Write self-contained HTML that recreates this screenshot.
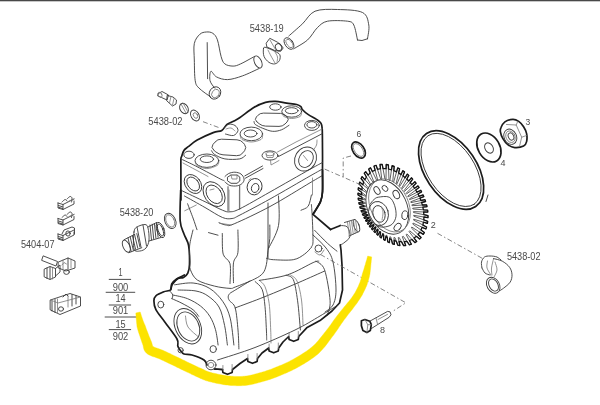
<!DOCTYPE html>
<html><head><meta charset="utf-8"><style>
html,body{margin:0;padding:0;background:#fff;width:600px;height:405px;overflow:hidden}
svg{display:block;position:absolute;left:0;top:0;will-change:transform}
.k{fill:none;stroke:#1c1c1c;stroke-width:1.7;stroke-linejoin:round;stroke-linecap:round}
.t{fill:none;stroke:#3a3a3a;stroke-width:0.9;stroke-linejoin:round;stroke-linecap:round}
.l{fill:none;stroke:#777;stroke-width:0.8;stroke-linejoin:round;stroke-linecap:round}
.d{fill:none;stroke:#666;stroke-width:0.8;stroke-dasharray:5 2.5 1.5 2.5}
.gf{fill:none;stroke:#141414;stroke-width:1.3;stroke-linejoin:round}
.gl2{fill:none;stroke:#444;stroke-width:0.85;stroke-linejoin:round}
.gb{fill:none;stroke:#333;stroke-width:1;stroke-linejoin:round}
.gl{fill:none;stroke:#444;stroke-width:0.7}
.y{fill:none;stroke:#fde300;stroke-width:6;stroke-linejoin:round;stroke-linecap:butt}
text{font-family:"Liberation Sans",sans-serif;fill:#4a4a4a}
</style></head><body>
<svg width="600" height="405" viewBox="0 0 600 405">
<defs><filter id="yb" x="-5%" y="-5%" width="110%" height="110%"><feGaussianBlur stdDeviation="0.55"/></filter></defs>
<rect x="0" y="0" width="600" height="1.3" fill="#484848"/>
<path class="t" d="M211.0,97.2 C209.0,95.7 201.5,90.8 198.9,88.0 C196.3,85.2 196.0,85.3 195.2,80.6 C194.4,75.9 194.5,66.2 194.3,60.0 C194.2,53.8 193.4,47.8 194.3,43.5 C195.2,39.2 197.8,36.2 199.8,34.3 C201.8,32.4 204.1,32.2 206.3,32.0 C208.5,31.8 211.0,32.0 212.8,33.3 C214.7,34.6 216.0,35.9 217.4,39.8 C218.8,43.7 219.9,52.5 221.1,56.5 C222.3,60.5 222.8,62.3 224.8,63.9 C226.8,65.5 230.5,66.1 233.1,66.1 C235.7,66.1 237.0,65.5 240.6,63.9 C244.2,62.3 252.1,57.7 254.4,56.5" />
<path class="t" d="M259.1,68.5 C256.3,69.7 247.7,74.1 242.4,75.9 C237.2,77.8 231.9,79.4 227.6,79.6 C223.3,79.8 219.3,78.3 216.5,76.9 C213.7,75.5 212.0,70.7 210.9,71.3 C209.8,71.9 209.4,77.8 210.0,80.6 C210.6,83.4 213.8,86.8 214.6,88.0" />
<path class="t" d="M207.2,42.6 L207.6,78.7" />
<ellipse class="t" cx="258.0" cy="62.0" rx="3.5" ry="6.5" transform="rotate(-25.0 258.0 62.0)" />
<ellipse class="t" cx="215.0" cy="93.0" rx="5.5" ry="6.5" transform="rotate(35.0 215.0 93.0)" />
<ellipse class="l" cx="215.5" cy="93.5" rx="3.5" ry="4.5" transform="rotate(35.0 215.5 93.5)" />
<path class="t" d="M263.5,48.5 C263.8,47.0 264.1,47.0 266.0,47.5 C267.9,48.0 272.5,50.1 274.8,51.3 C277.1,52.5 279.0,53.2 279.8,54.7 C280.6,56.2 280.2,59.1 279.4,60.6 C278.6,62.1 276.6,63.6 274.8,63.9 C273.1,64.2 270.7,63.5 268.9,62.3 C267.1,61.0 264.9,58.7 264.0,56.4 C263.1,54.1 263.2,50.0 263.5,48.5Z" />
<path class="l" d="M268.0,50.0 C268.5,51.0 269.8,53.8 271.0,56.0 C272.2,58.2 274.3,61.8 275.0,63.0" />
<path class="l" d="M275.0,52.0 C275.4,52.8 277.2,55.3 277.5,57.0 C277.8,58.7 277.1,61.2 277.0,62.0" />
<path class="t" d="M266.4,42.9 L269.8,38.3 L277.3,42.1 L280.7,44.6 L283.2,48.0 L280.7,51.3 L274.8,50.5 L267.2,47.1Z" />
<ellipse class="t" cx="278.5" cy="47.2" rx="3.0" ry="3.6" transform="rotate(-30.0 278.5 47.2)" />
<path class="l" d="M270.0,40.0 L275.5,49.5" />
<path class="t" d="M288.8,36.0 C291.0,34.0 298.1,27.9 302.5,23.8 C306.9,19.6 309.2,13.6 315.0,11.2 C320.8,8.9 329.6,9.3 337.5,9.5 C345.4,9.7 357.3,9.9 362.5,12.5 C367.7,15.1 367.9,20.6 368.8,25.0 C369.6,29.4 367.7,36.5 367.5,38.8" />
<path class="t" d="M357.5,40.0 C356.9,37.5 355.4,28.1 353.8,25.0 C352.1,21.9 351.9,21.9 347.5,21.2 C343.1,20.6 332.5,20.2 327.5,21.2 C322.5,22.3 320.8,24.4 317.5,27.5 C314.2,30.6 311.5,36.5 307.5,40.0 C303.5,43.5 296.0,47.3 293.8,48.8" />
<path class="t" d="M367.5,38.8 L362.0,40.5 L357.5,40.0" />
<ellipse class="t" cx="289.0" cy="43.5" rx="4.0" ry="6.5" transform="rotate(-35.0 289.0 43.5)" />
<ellipse class="l" cx="289.5" cy="43.5" rx="2.6" ry="4.8" transform="rotate(-35.0 289.5 43.5)" />
<text x="249.7" y="32.4" font-size="10.4" textLength="34" lengthAdjust="spacingAndGlyphs">5438-19</text>
<path class="t" d="M158.5,93.5 L162.0,91.5 L168.5,95.0 L167.0,100.0 L161.5,97.5 L158.0,96.0Z" />
<ellipse class="l" cx="160.0" cy="94.8" rx="1.8" ry="2.8" transform="rotate(-30.0 160.0 94.8)" />
<path class="t" d="M167.5,95.5 L173.0,97.0 L176.5,100.0 L176.0,104.0 L172.5,106.0 L167.0,101.0Z" />
<path class="l" d="M171.0,96.5 L169.5,103.0" />
<path class="l" d="M174.0,98.5 L172.5,105.0" />
<ellipse class="t" cx="184.0" cy="108.5" rx="4.0" ry="5.5" transform="rotate(-30.0 184.0 108.5)" />
<path class="l" d="M181.0,104.0 L186.0,113.0" />
<path class="l" d="M183.0,103.0 L188.0,112.0" />
<ellipse class="t" cx="195.0" cy="115.5" rx="4.0" ry="5.8" transform="rotate(-30.0 195.0 115.5)" />
<ellipse class="l" cx="195.5" cy="115.5" rx="2.0" ry="3.0" transform="rotate(-30.0 195.5 115.5)" />
<text x="148.3" y="125.0" font-size="10.4" textLength="34.2" lengthAdjust="spacingAndGlyphs">5438-02</text>
<path class="d" d="M203.0,121.7 L220.0,128.0" />
<path class="k" d="M180.9,200.0 C180.9,195.8 180.9,181.8 180.9,175.0 C180.9,168.2 180.8,162.4 180.9,159.3 C181.0,156.2 181.2,157.8 181.7,156.3 C182.2,154.8 182.8,152.0 183.9,150.4 C185.0,148.8 186.1,148.4 188.3,146.7 C190.5,145.0 193.0,142.3 197.2,140.0 C201.3,137.7 209.1,134.2 213.2,132.6 C217.3,131.0 219.5,131.8 221.8,130.4 C224.1,129.0 225.0,126.0 227.0,124.4 C229.0,122.8 231.8,122.2 234.0,121.0 C236.2,119.8 236.6,119.8 240.0,117.5 C243.4,115.2 249.9,109.8 254.2,107.3 C258.4,104.8 262.0,103.4 265.5,102.4 C269.0,101.4 271.9,101.3 275.4,101.4 C278.9,101.5 283.1,102.6 286.7,103.1 C290.2,103.6 294.3,103.9 296.7,104.5 C299.1,105.1 300.0,105.8 300.9,106.6 C301.8,107.4 301.1,108.2 302.3,109.5 C303.5,110.8 305.6,112.8 308.0,114.4 C310.4,116.1 314.4,118.0 316.5,119.4 C318.6,120.8 319.8,121.4 320.7,122.9 C321.6,124.4 321.9,124.1 322.2,128.6 C322.5,133.1 322.4,143.1 322.5,150.0 C322.6,156.9 322.5,163.1 322.5,170.0 C322.5,176.9 322.8,186.4 322.5,191.7 C322.2,197.0 322.1,197.8 320.5,201.6 C318.9,205.4 314.2,212.2 313.0,214.3" />
<path class="t" d="M181.7,159.3 C184.0,160.4 191.0,163.6 195.7,166.0 C200.4,168.4 205.8,171.3 210.0,173.5 C214.2,175.7 218.6,178.1 220.9,179.3 C223.2,180.5 223.5,180.3 224.0,180.5" />
<path class="l" d="M183.0,163.0 C185.2,164.2 191.8,167.8 196.0,170.0 C200.2,172.2 206.0,175.4 208.0,176.5" />
<path class="t" d="M225.0,176.5 C225.6,176.0 227.0,174.2 228.7,173.5 C230.3,172.8 232.8,172.1 234.9,172.2 C237.0,172.3 239.5,172.9 241.0,174.0 C242.5,175.1 243.9,177.4 244.1,179.0 C244.3,180.6 243.4,182.2 242.3,183.3 C241.2,184.4 239.4,185.4 237.3,185.8 C235.2,186.2 232.1,186.1 230.0,185.5 C227.9,184.9 225.8,182.6 225.0,182.0" />
<path class="t" d="M227.8,177.0 L231.0,175.0 L237.0,175.0 L239.8,177.0 L239.8,181.0 L237.0,183.3 L231.0,183.3 L227.8,181.0Z" />
<path class="l" d="M231.0,175.0 L232.0,179.0 L237.0,179.0 L237.0,175.0" />
<path class="t" d="M228.0,186.7 L228.0,210.5" />
<path class="t" d="M239.7,185.8 L239.7,209.2" />
<path class="t" d="M244.8,175.9 L262.5,166.0" />
<path class="t" d="M245.4,178.2 L263.0,168.5" />
<ellipse class="t" cx="270.0" cy="155.5" rx="8.0" ry="4.6" transform="rotate(0.0 270.0 155.5)" />
<path class="l" d="M266.0,154.0 L267.0,157.5 L273.0,157.5 L274.0,154.0" />
<ellipse class="l" cx="270.0" cy="153.8" rx="4.0" ry="2.0" transform="rotate(0.0 270.0 153.8)" />
<path class="l" d="M270.5,160.0 L271.0,165.0 L279.0,160.5" />
<path class="t" d="M278.5,156.5 L322.0,133.8" />
<path class="l" d="M277.5,152.0 L296.0,142.0 L322.2,129.0" />
<path class="t" d="M182.5,191.0 C186.2,192.8 198.3,198.5 205.0,201.7 C211.7,204.9 218.3,208.5 222.5,210.2 C226.7,211.9 227.1,212.1 230.0,211.8 C232.9,211.6 233.3,212.0 240.0,208.7 C246.7,205.4 258.3,198.6 270.0,192.0 C281.7,185.4 301.2,174.2 310.0,169.3 C318.8,164.4 320.4,163.6 322.5,162.5" />
<path class="t" d="M184.5,196.0 C187.9,197.9 198.7,203.9 205.0,207.5 C211.3,211.1 218.0,215.7 222.5,217.5 C227.0,219.3 229.1,218.9 232.0,218.5 C234.9,218.1 233.7,218.2 240.0,215.0 C246.3,211.8 258.3,205.5 270.0,199.0 C281.7,192.5 301.2,181.0 310.0,176.0 C318.8,171.0 320.4,170.2 322.5,169.0" />
<path class="t" d="M219.0,222.7 C220.2,223.1 223.5,224.8 226.0,225.0 C228.5,225.2 226.9,226.9 234.2,223.8 C241.5,220.7 257.4,213.3 270.0,206.5 C282.6,199.7 301.2,188.0 310.0,182.8 C318.8,177.6 320.4,176.7 322.5,175.5" />
<path class="l" d="M184.7,210.8 L196.3,205.0" />
<path class="l" d="M219.7,223.3 L231.3,225.0" />
<path class="l" d="M312.5,178.0 L312.5,195.0" />
<path class="t" d="M256.7,121.7 Q254.0,119.5 256.4,116.9 L257.6,115.6 Q260.0,113.0 263.5,113.1 L280.5,113.4 Q284.0,113.5 286.4,116.1 L287.1,116.9 Q289.5,119.5 287.0,122.0 L285.0,124.0 Q282.5,126.5 279.0,126.4 L265.5,126.1 Q262.0,126.0 259.3,123.8 L256.7,121.7" />
<path class="t" d="M254.1,121.5 C254.3,122.0 253.9,123.4 255.3,124.5 C256.8,125.6 259.9,127.2 262.8,128.3 C265.7,129.4 269.4,131.1 272.5,131.3 C275.6,131.6 278.8,130.8 281.5,129.8 C284.2,128.8 287.8,126.0 289.0,125.3" />
<path class="t" d="M213.6,150.0 Q210.5,147.5 213.0,144.4 L215.0,142.1 Q217.5,139.0 221.5,139.2 L237.0,139.8 Q241.0,140.0 243.5,143.1 L244.5,144.4 Q247.0,147.5 244.6,150.7 L242.9,152.8 Q240.5,156.0 236.5,155.7 L223.0,154.8 Q219.0,154.5 215.9,152.0 L213.6,150.0" />
<path class="t" d="M211.6,150.7 C212.1,151.3 212.3,153.0 214.5,154.4 C216.7,155.8 220.7,158.2 224.9,158.9 C229.1,159.7 236.2,159.5 239.7,158.9 C243.1,158.3 244.6,155.8 245.6,155.2" />
<ellipse class="t" cx="206.9" cy="160.7" rx="11.9" ry="6.7" transform="rotate(0.0 206.9 160.7)" />
<ellipse class="t" cx="206.9" cy="159.2" rx="6.7" ry="3.3" transform="rotate(0.0 206.9 159.2)" />
<path class="l" d="M195.3,162.0 C195.6,162.6 195.1,164.4 197.0,165.5 C198.9,166.6 203.6,168.6 206.9,168.6 C210.2,168.6 215.0,166.6 217.0,165.5 C219.0,164.4 218.5,162.6 218.8,162.0" />
<ellipse class="t" cx="189.0" cy="154.8" rx="5.2" ry="3.6" transform="rotate(0.0 189.0 154.8)" />
<ellipse class="t" cx="251.3" cy="133.9" rx="11.3" ry="6.8" transform="rotate(0.0 251.3 133.9)" />
<ellipse class="t" cx="250.6" cy="133.5" rx="6.4" ry="3.5" transform="rotate(0.0 250.6 133.5)" />
<path class="l" d="M240.3,135.5 C240.6,136.2 240.2,138.4 242.0,139.5 C243.8,140.6 248.1,142.0 251.3,142.0 C254.5,142.0 259.1,140.6 261.0,139.5 C262.9,138.4 262.3,136.2 262.6,135.5" />
<ellipse class="t" cx="291.7" cy="111.5" rx="9.9" ry="5.7" transform="rotate(0.0 291.7 111.5)" />
<ellipse class="t" cx="291.7" cy="110.7" rx="6.4" ry="3.0" transform="rotate(0.0 291.7 110.7)" />
<path class="l" d="M282.0,113.0 C282.3,113.6 282.4,115.6 284.0,116.5 C285.6,117.4 289.0,118.5 291.7,118.5 C294.4,118.5 298.4,117.4 300.0,116.5 C301.6,115.6 301.3,113.6 301.6,113.0" />
<ellipse class="t" cx="275.4" cy="107.0" rx="5.7" ry="3.2" transform="rotate(0.0 275.4 107.0)" />
<ellipse class="t" cx="311.9" cy="125.4" rx="7.4" ry="5.0" transform="rotate(0.0 311.9 125.4)" />
<ellipse class="t" cx="311.9" cy="124.8" rx="5.0" ry="3.2" transform="rotate(0.0 311.9 124.8)" />
<ellipse class="t" cx="193.0" cy="184.0" rx="7.6" ry="10.5" transform="rotate(-38.0 193.0 184.0)" />
<ellipse class="t" cx="193.2" cy="184.0" rx="5.3" ry="7.8" transform="rotate(-38.0 193.2 184.0)" />
<ellipse class="t" cx="214.1" cy="194.1" rx="9.6" ry="13.6" transform="rotate(-35.0 214.1 194.1)" />
<ellipse class="t" cx="214.2" cy="194.3" rx="7.0" ry="10.2" transform="rotate(-35.0 214.2 194.3)" />
<path class="l" d="M210.0,190.0 L214.0,189.0" />
<ellipse class="t" cx="254.6" cy="186.7" rx="7.4" ry="8.3" transform="rotate(20.0 254.6 186.7)" />
<ellipse class="t" cx="255.2" cy="188.0" rx="3.7" ry="4.6" transform="rotate(20.0 255.2 188.0)" />
<path class="l" d="M249.0,180.0 C249.3,179.8 250.7,178.8 251.0,178.5" />
<ellipse class="t" cx="305.5" cy="159.0" rx="10.5" ry="12.5" transform="rotate(30.0 305.5 159.0)" />
<ellipse class="t" cx="306.0" cy="159.0" rx="6.8" ry="8.8" transform="rotate(30.0 306.0 159.0)" />
<path class="l" d="M303.5,155.5 L307.5,160.5" />
<path class="t" d="M224.5,127.5 C225.2,127.0 227.2,124.5 229.0,124.2 C230.8,123.9 233.5,124.5 235.0,125.5 C236.5,126.5 238.2,128.8 238.0,130.5 C237.8,132.2 235.6,134.9 233.5,135.5 C231.4,136.1 226.8,134.2 225.5,134.0" />
<path class="l" d="M226.0,129.0 C226.8,128.8 229.5,127.7 231.0,128.0 C232.5,128.3 234.3,130.5 235.0,131.0" />
<path class="l" d="M317.0,140.0 C316.9,140.8 317.1,143.3 316.5,145.0 C315.9,146.7 314.0,149.2 313.5,150.0" />
<path class="k" d="M180.7,190.0 C180.6,195.2 179.6,213.7 180.2,221.0 C180.8,228.3 182.6,229.9 184.0,234.0 C185.4,238.1 187.7,240.4 188.6,245.5 C189.5,250.6 189.6,259.9 189.5,264.5 C189.4,269.1 188.8,271.0 187.8,273.2 C186.8,275.4 185.1,276.6 183.5,277.5 C181.9,278.4 179.8,277.5 178.0,278.6 C176.2,279.7 173.6,282.6 172.4,284.3 C171.2,286.0 171.1,288.2 170.8,289.0" />
<path class="t" d="M193.0,230.0 C192.4,232.7 190.1,240.7 189.6,246.0 C189.1,251.3 189.9,258.1 190.0,262.0 C190.1,265.9 189.2,266.7 190.4,269.7 C191.6,272.7 193.3,277.3 197.3,280.0 C201.3,282.7 209.1,284.7 214.5,286.1 C219.9,287.5 226.5,288.2 230.0,288.4 C233.5,288.5 231.2,288.5 235.3,287.0 C239.4,285.5 249.7,281.5 254.3,279.2 C258.9,276.9 260.9,275.6 262.9,273.2 C264.9,270.8 265.5,268.2 266.4,264.5 C267.2,260.8 267.4,255.0 268.0,250.7 C268.6,246.4 269.5,242.9 269.8,238.6 C270.1,234.3 269.8,227.3 269.8,225.0" />
<path class="t" d="M187.6,203.8 C188.5,206.2 191.4,213.7 193.0,218.0 C194.6,222.3 196.3,227.8 197.0,229.7" />
<path class="t" d="M208.5,232.6 L218.0,235.2" />
<path class="t" d="M222.3,233.5 C222.5,236.9 221.9,249.2 223.2,254.2 C224.5,259.2 228.9,258.8 230.0,263.7 C231.1,268.6 230.0,280.2 230.0,283.5" />
<path class="t" d="M237.9,230.0 C237.9,233.8 238.6,247.0 237.9,252.5 C237.2,258.0 234.2,257.8 233.5,262.8 C232.8,267.8 233.5,279.4 233.5,282.7" />
<path class="l" d="M229.0,190.0 L229.0,211.0" />
<path class="l" d="M239.4,190.0 L239.4,208.0" />
<path class="t" d="M278.5,196.0 C278.5,200.9 280.1,216.8 278.5,225.5 C276.9,234.2 270.4,244.2 268.8,248.0" />
<path class="t" d="M301.0,210.2 C302.2,209.5 306.5,208.7 308.2,206.2 C309.9,203.7 310.9,196.9 311.4,195.0" />
<path class="t" d="M311.4,204.6 C311.5,206.5 311.9,209.8 312.2,215.9 C312.5,222.1 313.1,236.4 313.0,241.5 C312.9,246.6 311.7,245.6 311.4,246.4" />
<path class="t" d="M268.0,203.0 L268.0,258.0" />
<path class="k" d="M322.5,170.0 C322.5,173.6 322.8,186.4 322.5,191.7 C322.2,197.0 322.1,197.8 320.5,201.6 C318.9,205.4 314.2,212.2 313.0,214.3" />
<path class="k" d="M313.0,214.3 L330.6,229.5" />
<path class="k" d="M330.6,229.5 C332.2,228.8 338.7,226.2 340.3,225.5" />
<path class="t" d="M314.6,230.3 C316.7,232.5 323.7,239.7 327.4,243.2 C331.1,246.7 335.4,249.9 337.0,251.2" />
<path class="t" d="M313.0,235.0 C315.2,237.2 322.7,243.5 326.0,248.0 C329.3,252.5 331.3,255.0 333.0,262.0 C334.7,269.0 336.0,282.8 336.0,290.0 C336.0,297.2 334.8,301.3 333.0,305.0 C331.2,308.7 326.3,310.8 325.0,312.0" />
<ellipse class="t" cx="318.5" cy="248.5" rx="3.5" ry="3.5" transform="rotate(0.0 318.5 248.5)" />
<path class="l" d="M315.0,252.0 C315.8,252.5 318.5,255.3 320.0,255.0 C321.5,254.7 323.3,250.8 324.0,250.0" />
<path class="t" d="M340.3,225.5 C341.5,225.8 345.9,225.2 347.5,227.1 C349.1,229.0 350.6,234.0 349.9,236.7 C349.2,239.4 345.1,241.8 343.5,243.2 C341.9,244.5 340.8,244.5 340.3,244.8" />
<path class="t" d="M344.5,222.5 L354.5,219.5" />
<path class="t" d="M349.0,236.0 L358.0,232.0" />
<ellipse class="t" cx="356.5" cy="225.8" rx="2.6" ry="6.5" transform="rotate(-20.0 356.5 225.8)" />
<path class="l" d="M347.5,222.2 L349.3,235.8" />
<path class="l" d="M349.5,221.6 L351.3,235.0" />
<path class="l" d="M351.5,221.0 L353.3,234.2" />
<path class="l" d="M353.5,220.4 L355.3,233.4" />
<path class="l" d="M355.5,219.8 L357.3,232.6" />
<path class="t" d="M174.6,284.8 C177.7,284.5 187.2,282.4 193.1,283.0 C199.0,283.6 204.9,285.4 209.8,288.5 C214.8,291.6 219.4,296.6 222.8,301.5 C226.2,306.4 228.3,310.9 230.2,318.1 C232.0,325.4 233.3,340.5 233.9,345.0" />
<path class="t" d="M178.0,290.0 C181.0,290.2 191.0,290.0 196.0,291.0 C201.0,292.0 204.2,293.3 208.0,296.0 C211.8,298.7 216.2,302.1 219.0,307.0 C221.8,311.9 223.2,319.2 224.6,325.5 C226.0,331.8 226.9,341.8 227.4,345.0" />
<path class="t" d="M172.8,295.0 C175.3,295.6 183.0,296.8 187.6,298.7 C192.2,300.6 196.9,303.2 200.6,306.1 C204.3,309.0 207.3,312.4 209.8,316.3 C212.3,320.2 214.0,324.5 215.4,329.3 C216.8,334.1 217.7,342.4 218.1,345.0" />
<path class="t" d="M171.9,298.7 C173.6,299.5 178.5,301.4 182.0,303.3 C185.5,305.2 190.3,307.6 193.1,309.8 C195.9,312.0 197.8,315.2 198.7,316.3" />
<path class="t" d="M170.0,291.3 C170.5,291.9 172.5,293.8 172.8,295.0 C173.1,296.2 172.1,298.1 171.9,298.7" />
<path class="t" d="M250.0,281.0 C247.4,282.6 237.6,288.6 234.2,290.7 C230.8,292.8 230.6,292.6 229.6,293.7 C228.6,294.8 228.2,295.8 228.2,297.0 C228.2,298.2 228.4,299.0 229.6,300.8 C230.8,302.6 233.8,303.0 235.2,307.9 C236.6,312.8 237.4,323.2 238.0,330.0 C238.6,336.8 238.8,345.8 238.9,348.9" />
<path class="t" d="M235.2,307.9 C240.2,306.0 254.4,300.9 265.0,296.6 C275.6,292.4 289.1,286.6 299.0,282.4 C308.9,278.1 320.2,273.0 324.5,271.1" />
<path class="t" d="M255.1,281.6 C256.3,282.9 260.6,285.4 262.2,289.5 C263.8,293.6 264.3,299.8 265.0,306.5 C265.7,313.2 266.1,324.4 266.4,330.0 C266.7,335.6 266.6,338.3 266.7,340.0" />
<path class="l" d="M259.3,280.4 C260.2,281.4 263.4,282.8 265.0,286.7 C266.6,290.6 268.2,296.5 269.2,303.7 C270.1,310.9 270.4,323.4 270.7,330.0 C271.0,336.6 270.9,340.8 271.0,343.0" />
<path class="t" d="M259.3,280.4 C264.0,279.5 278.6,277.8 287.6,274.8 C296.6,271.8 307.9,264.9 313.1,262.6 C318.3,260.3 317.9,261.4 318.8,261.2" />
<path class="t" d="M286.2,275.3 C287.4,276.0 291.4,275.4 293.3,279.6 C295.2,283.9 296.4,292.4 297.6,300.8 C298.8,309.2 299.9,325.1 300.4,330.0" />
<path class="l" d="M290.5,275.0 C291.6,276.0 295.2,276.8 297.0,281.0 C298.8,285.2 300.5,292.7 301.5,300.0 C302.5,307.3 302.8,320.8 303.0,325.0" />
<path class="t" d="M316.0,261.2 C317.4,262.6 322.1,263.1 324.5,269.7 C326.9,276.3 329.6,293.2 330.1,300.8 C330.6,308.4 327.8,312.6 327.3,315.0" />
<path class="t" d="M266.4,258.3 C267.6,258.5 269.0,259.5 273.5,259.7 C278.0,259.9 288.1,260.6 293.3,259.7 C298.5,258.8 301.5,256.2 304.6,254.1 C307.7,252.0 310.5,248.2 311.7,247.0" />
<path class="k" d="M184.5,275.0 C183.2,275.7 178.7,277.5 176.6,279.0 C174.5,280.5 172.7,282.1 171.7,283.9 C170.7,285.7 172.0,288.5 170.7,289.8 C169.4,291.1 166.3,290.8 163.8,291.8 C161.3,292.8 157.6,294.3 155.9,295.8 C154.2,297.3 153.9,298.4 153.9,300.7 C153.9,303.0 154.1,306.1 155.9,309.6 C157.7,313.2 161.3,317.1 164.8,322.0 C168.3,326.9 174.8,335.0 177.0,339.0 C179.2,343.0 177.3,344.2 177.8,346.0 C178.3,347.8 179.0,348.7 180.0,350.0 C181.0,351.3 182.0,353.2 184.0,354.0 C186.0,354.8 188.7,354.0 192.0,355.0 C195.3,356.0 201.5,358.3 204.0,360.0 C206.5,361.7 206.5,364.2 207.0,365.0" />
<path class="k" d="M214.5,369.0 C215.8,369.1 221.2,369.4 222.5,369.5" />
<path class="k" d="M214.5,369.0 L221.0,369.5 L222.5,369.5 L222.9,372.5 L227.5,374.3 L232.1,372.5 L232.5,369.5 L240.0,363.5 L247.5,358.5 L247.9,361.5 L252.5,363.3 L257.1,361.5 L257.5,358.5 L262.0,353.0 L268.7,348.0 L269.1,351.0 L273.7,352.8 L278.3,351.0 L278.7,348.0 L283.0,342.0 L288.7,336.5 L289.1,339.5 L293.7,341.3 L298.3,339.5 L298.7,336.5 L306.7,327.8 L320.0,320.6 L332.0,311.0 L339.5,303.0 L342.5,290.0 L342.0,265.0 L341.0,250.0 L340.3,244.8" />
<path class="t" d="M217.5,360.0 C223.8,357.9 242.1,352.5 255.0,347.5 C267.9,342.5 284.2,335.2 295.0,330.0 C305.8,324.8 312.8,320.2 320.0,316.0 C327.2,311.8 335.0,306.8 338.0,305.0" />
<path class="l" d="M222.9,370.0 L222.9,365.5" />
<path class="l" d="M232.1,370.0 L232.1,364.5" />
<path class="l" d="M247.9,359.0 L247.9,354.5" />
<path class="l" d="M257.1,359.0 L257.1,353.5" />
<path class="l" d="M269.1,348.5 L269.1,344.0" />
<path class="l" d="M278.3,348.5 L278.3,343.0" />
<path class="l" d="M289.1,337.0 L289.1,332.5" />
<path class="l" d="M298.3,337.0 L298.3,331.5" />
<ellipse class="t" cx="160.8" cy="304.6" rx="3.0" ry="3.4" transform="rotate(0.0 160.8 304.6)" />
<ellipse class="t" cx="187.8" cy="326.2" rx="12.6" ry="18.6" transform="rotate(-25.0 187.8 326.2)" />
<ellipse class="t" cx="188.3" cy="326.5" rx="10.5" ry="15.3" transform="rotate(-25.0 188.3 326.5)" />
<path class="l" d="M185.5,316.0 C185.9,317.8 185.8,323.5 188.0,327.0 C190.2,330.5 196.8,335.3 198.5,337.0" />
<ellipse class="t" cx="213.2" cy="349.1" rx="3.2" ry="3.5" transform="rotate(0.0 213.2 349.1)" />
<ellipse class="t" cx="211.0" cy="365.0" rx="5.0" ry="4.8" transform="rotate(0.0 211.0 365.0)" />
<ellipse class="l" cx="211.0" cy="365.0" rx="2.8" ry="2.6" transform="rotate(0.0 211.0 365.0)" />
<ellipse class="t" cx="180.6" cy="350.2" rx="2.6" ry="2.6" transform="rotate(0.0 180.6 350.2)" />
<ellipse class="t" cx="170.2" cy="220.9" rx="5.3" ry="8.0" transform="rotate(-25.0 170.2 220.9)" />
<ellipse class="l" cx="170.2" cy="220.9" rx="4.0" ry="6.5" transform="rotate(-25.0 170.2 220.9)" />
<text x="119.7" y="215.7" font-size="10.4" textLength="33.7" lengthAdjust="spacingAndGlyphs">5438-20</text>
<path class="t" d="M124.0,239.8 L134.8,234.3" />
<path class="t" d="M128.9,252.7 L141.8,247.7" />
<ellipse class="t" cx="126.3" cy="246.2" rx="3.3" ry="6.5" transform="rotate(-25.0 126.3 246.2)" />
<path class="t" d="M128.0,238.0 L131.2,251.5" />
<path class="t" d="M130.2,236.9 L133.4,250.4" />
<path class="t" d="M132.4,235.8 L135.6,249.3" />
<path class="t" d="M134.6,234.7 L137.8,248.2" />
<path class="t" d="M136.8,233.6 L140.0,247.1" />
<path class="t" d="M134.0,232.0 C134.5,228.3 135.2,228.2 137.0,227.0 C138.8,225.8 143.2,224.3 145.0,224.5 C146.8,224.7 147.3,225.4 148.0,228.0 C148.7,230.6 149.3,236.7 149.0,240.0 C148.7,243.3 147.5,246.2 146.0,248.0 C144.5,249.8 142.0,250.8 140.0,251.0 C138.0,251.2 135.0,252.2 134.0,249.0 C133.0,245.8 133.5,235.7 134.0,232.0Z" />
<path class="t" d="M137.0,227.0 L141.0,247.0" />
<path class="t" d="M143.0,225.0 L146.5,246.0" />
<path class="t" d="M148.0,227.0 L156.6,222.5" />
<path class="t" d="M149.0,241.0 L161.0,237.5" />
<ellipse class="t" cx="160.5" cy="230.0" rx="3.6" ry="8.0" transform="rotate(-20.0 160.5 230.0)" />
<ellipse class="t" cx="160.5" cy="230.0" rx="2.4" ry="6.3" transform="rotate(-20.0 160.5 230.0)" />
<path class="t" d="M150.0,225.0 L151.5,240.0" />
<path class="t" d="M152.2,224.2 L153.7,239.1" />
<path class="t" d="M154.4,223.4 L155.9,238.2" />
<path class="t" d="M156.6,222.6 L158.1,237.3" />
<text x="20.9" y="248.2" font-size="10.4" textLength="33.6" lengthAdjust="spacingAndGlyphs">5404-07</text>
<path class="t" d="M58.0,203.0 L58.0,208.0 L63.0,209.5 L74.0,204.0 L74.0,201.0" />
<path class="t" d="M58.0,203.0 L63.0,204.5 L74.0,199.0" />
<path class="t" d="M63.0,204.5 L63.0,209.5" />
<path class="t" d="M58.5,205.5 L62.5,206.8" />
<path class="t" d="M58.5,207.2 L62.5,208.5" />
<path class="t" d="M62.0,202.0 C62.5,201.6 64.2,199.7 65.0,199.5 C65.8,199.3 66.7,200.8 67.0,201.0" />
<path class="t" d="M67.0,199.0 C67.5,198.6 69.2,196.7 70.0,196.5 C70.8,196.3 71.8,197.1 72.0,198.0 C72.2,198.9 71.6,201.3 71.5,202.0" />
<path class="l" d="M69.0,201.0 L74.0,199.0" />
<path class="t" d="M58.0,218.5 L58.0,223.5 L63.0,225.0 L74.0,219.5 L74.0,216.5" />
<path class="t" d="M58.0,218.5 L63.0,220.0 L74.0,214.5" />
<path class="t" d="M63.0,220.0 L63.0,225.0" />
<path class="t" d="M58.5,221.0 L62.5,222.3" />
<path class="t" d="M58.5,222.7 L62.5,224.0" />
<path class="t" d="M62.0,217.5 C62.5,217.1 64.2,215.2 65.0,215.0 C65.8,214.8 66.7,216.2 67.0,216.5" />
<path class="t" d="M67.0,214.5 C67.5,214.1 69.2,212.2 70.0,212.0 C70.8,211.8 71.8,212.6 72.0,213.5 C72.2,214.4 71.6,216.8 71.5,217.5" />
<path class="l" d="M69.0,216.5 L74.0,214.5" />
<path class="t" d="M58.0,234.0 L58.0,239.0 L63.0,240.5 L74.0,235.0 L74.0,232.0" />
<path class="t" d="M58.0,234.0 L63.0,235.5 L74.0,230.0" />
<path class="t" d="M63.0,235.5 L63.0,240.5" />
<path class="t" d="M58.5,236.5 L62.5,237.8" />
<path class="t" d="M58.5,238.2 L62.5,239.5" />
<path class="t" d="M62.0,234.0 L64.0,230.0 L72.0,227.0 L74.5,228.0 L74.5,234.0" />
<ellipse class="t" cx="68.0" cy="233.5" rx="2.2" ry="2.6" transform="rotate(0.0 68.0 233.5)" />
<path class="t" d="M43.5,256.0 L57.5,261.5 L56.0,266.0 L42.0,260.5Z" />
<path class="t" d="M44.5,269.0 L50.0,266.5 L55.5,268.5 L55.5,277.0 L50.0,279.5 L44.5,277.0Z" />
<path class="t" d="M47.0,268.0 L47.0,278.5" />
<path class="t" d="M50.0,267.0 L50.0,279.0" />
<path class="l" d="M52.5,268.0 L52.5,279.0" />
<path class="t" d="M55.5,268.5 L60.0,265.0 L60.0,272.0 L55.5,276.0" />
<path class="t" d="M58.5,262.0 L68.0,258.0 L75.0,261.0 L75.0,268.0 L66.0,271.0 L58.5,268.0Z" />
<path class="l" d="M63.0,260.0 L63.0,270.0" />
<path class="t" d="M68.0,258.0 L68.0,269.0" />
<path class="l" d="M71.0,259.0 L71.0,268.0" />
<ellipse class="t" cx="66.5" cy="272.0" rx="2.8" ry="2.4" transform="rotate(0.0 66.5 272.0)" />
<path class="l" d="M62.0,265.0 L64.0,262.5 L66.5,264.0" />
<path class="t" d="M50.5,300.0 L70.0,293.5 L80.5,297.0 L80.5,306.0 L60.0,314.5 L50.5,310.0Z" />
<path class="t" d="M52.0,301.0 L52.0,311.0" />
<path class="t" d="M55.0,299.5 L55.0,312.5" />
<path class="l" d="M57.5,299.0 L57.5,313.5" />
<path class="l" d="M68.0,296.0 L68.0,307.0" />
<path class="t" d="M72.0,294.5 L72.0,306.0" />
<path class="t" d="M76.0,295.5 L76.0,304.0" />
<path class="l" d="M50.5,300.0 L58.0,303.0 L80.5,297.0" />
<ellipse class="t" cx="61.0" cy="309.0" rx="2.5" ry="2.2" transform="rotate(0.0 61.0 309.0)" />
<path class="t" d="M63.0,297.0 L66.0,294.0 L68.0,296.0" />
<text x="118.4" y="276.3" font-size="10" textLength="4.1" lengthAdjust="spacingAndGlyphs">1</text>
<text x="112.7" y="290.7" font-size="10" textLength="15.6" lengthAdjust="spacingAndGlyphs">900</text>
<text x="115.4" y="302.0" font-size="10" textLength="10.2" lengthAdjust="spacingAndGlyphs">14</text>
<text x="112.7" y="314.3" font-size="10" textLength="15.6" lengthAdjust="spacingAndGlyphs">901</text>
<text x="115.4" y="327.6" font-size="10" textLength="10.2" lengthAdjust="spacingAndGlyphs">15</text>
<text x="112.7" y="339.9" font-size="10" textLength="15.6" lengthAdjust="spacingAndGlyphs">902</text>
<path class="t" d="M109.2,279.4 L130.7,279.4" />
<path class="t" d="M106.1,292.3 L134.8,292.3" />
<path class="t" d="M109.2,305.0 L130.7,305.0" />
<path class="t" d="M105.1,317.0 L136.9,317.0" />
<path class="t" d="M109.2,329.6 L130.7,329.6" />
<path d="M412.9,209.0 L427.6,210.1 L427.8,212.1 L413.4,211.6 L413.5,212.5 L428.0,215.6 L428.0,217.7 L413.7,215.3 L413.8,216.2 L427.7,221.3 L427.4,223.4 L413.7,219.2 L413.6,220.1 L426.6,227.0 L425.9,229.0 L413.1,223.1 L412.8,224.1 L424.4,232.5 L423.3,234.4 L411.8,227.1 L411.4,228.0 L421.1,237.5 L419.6,239.0 L409.7,230.8 L409.1,231.6 L416.7,241.5 L414.9,242.6 L406.9,234.0 L406.1,234.6 L411.4,244.2 L409.4,244.8 L403.3,236.3 L402.3,236.7 L405.7,245.5 L403.6,245.6 L399.2,237.5 L398.2,237.7 L399.9,245.5 L397.8,245.2 L395.0,237.7 L393.9,237.6 L394.4,244.4 L392.5,243.8 L390.8,237.0 L389.9,236.7 L389.4,242.6 L387.7,241.8 L387.1,235.6 L386.2,235.2 L385.0,240.4 L383.6,239.5 L383.7,233.8 L382.9,233.4 L381.2,237.9 L379.9,236.9 L380.7,231.8 L380.1,231.2 L377.9,235.2 L376.8,234.3 L378.2,229.6 L377.6,229.0 L375.0,232.6 L374.0,231.6 L376.0,227.3 L375.5,226.7 L372.4,229.8 L371.6,228.9 L374.0,225.0 L373.6,224.4 L370.1,227.1 L369.4,226.1 L372.3,222.6 L372.0,222.0 L368.1,224.3 L367.4,223.3 L370.8,220.2 L370.5,219.6 L366.2,221.4 L365.6,220.4 L369.5,217.8 L369.2,217.2 L364.5,218.4 L364.0,217.3 L368.4,215.2 L368.1,214.6 L363.0,215.3 L362.4,214.1 L367.3,212.5 L367.1,211.9 L361.6,211.9 L361.1,210.6 L366.5,209.7 L366.3,209.0 L360.3,208.2 L359.9,206.8 L365.8,206.7 L365.7,205.9 L359.2,204.2 L358.9,202.7 L365.4,203.5 L365.3,202.6 L358.4,199.8 L358.2,198.1 L365.2,200.0 L365.3,199.1 L358.0,195.0 L358.0,193.1 L365.5,196.3 L365.6,195.4 L358.2,189.7 L358.4,187.7 L366.3,192.5 L366.6,191.6 L359.1,184.1 L359.7,182.1 L367.8,188.7 L368.2,187.8 L361.1,178.5 L362.1,176.6 L370.0,185.2 L370.7,184.4 L364.3,173.3 L365.7,171.7 L373.0,182.3 L373.9,181.8 L368.7,169.0 L370.5,167.8 L376.7,180.3 L377.7,180.0 L374.0,166.0 L376.1,165.3 L380.8,179.3 L381.8,179.3 L380.0,164.5 L382.2,164.4 L385.0,179.4 L386.0,179.5 L386.2,164.5 L388.4,164.8 L389.0,180.2 L389.9,180.6 L392.1,165.7 L394.2,166.4 L392.7,181.7 L393.6,182.2 L397.7,167.9 L399.6,168.9 L396.1,183.7 L396.8,184.2 L402.8,170.7 L404.5,171.9 L399.0,185.9 L399.7,186.4 L407.3,174.1 L408.8,175.4 L401.6,188.3 L402.2,188.8 L411.4,177.8 L412.7,179.2 L403.9,190.8 L404.5,191.4 L414.9,181.7 L416.1,183.2 L406.0,193.4 L406.4,194.0 L418.0,185.9 L419.1,187.5 L407.7,196.1 L408.1,196.8 L420.8,190.3 L421.6,191.9 L409.3,198.9 L409.6,199.6 L423.1,194.9 L423.8,196.6 L410.7,201.8 L411.0,202.6 L425.0,199.7 L425.6,201.5 L411.8,204.9 L412.1,205.7 L426.6,204.8 L427.0,206.7 L412.7,208.2Z" fill="#fff" stroke="none"/>
<path class="gl2" d="M412.9,209.0 L427.6,210.1 L427.8,212.1 L413.4,211.6 L413.5,212.5 L428.0,215.6 L428.0,217.7 L413.7,215.3 L413.8,216.2 L427.7,221.3 L427.4,223.4 L413.7,219.2 L413.6,220.1 L426.6,227.0 L425.9,229.0 L413.1,223.1 L412.8,224.1 L424.4,232.5 L423.3,234.4 L411.8,227.1 L411.4,228.0 L421.1,237.5 L419.6,239.0 L409.7,230.8 L409.1,231.6 L416.7,241.5 L414.9,242.6 L406.9,234.0 L406.1,234.6 L411.4,244.2 L409.4,244.8 L403.3,236.3 L402.3,236.7 L405.7,245.5 L403.6,245.6 L399.2,237.5 L398.2,237.7 L399.9,245.5 L397.8,245.2 L395.0,237.7 L393.9,237.6 L394.4,244.4 L392.5,243.8 L390.8,237.0 L389.9,236.7 L389.4,242.6 L387.7,241.8 L387.1,235.6 L386.2,235.2 L385.0,240.4 L383.6,239.5 L383.7,233.8 L382.9,233.4 L381.2,237.9 L379.9,236.9 L380.7,231.8 L380.1,231.2 L377.9,235.2 L376.8,234.3 L378.2,229.6 L377.6,229.0 L375.0,232.6 L374.0,231.6 L376.0,227.3 L375.5,226.7 L372.4,229.8 L371.6,228.9 L374.0,225.0 L373.6,224.4 L370.1,227.1 L369.4,226.1 L372.3,222.6 L372.0,222.0 L368.1,224.3 L367.4,223.3 L370.8,220.2 L370.5,219.6 L366.2,221.4 L365.6,220.4 L369.5,217.8 L369.2,217.2 L364.5,218.4 L364.0,217.3 L368.4,215.2 L368.1,214.6 L363.0,215.3 L362.4,214.1 L367.3,212.5 L367.1,211.9 L361.6,211.9 L361.1,210.6 L366.5,209.7 L366.3,209.0 L360.3,208.2 L359.9,206.8 L365.8,206.7 L365.7,205.9 L359.2,204.2 L358.9,202.7 L365.4,203.5 L365.3,202.6 L358.4,199.8 L358.2,198.1 L365.2,200.0 L365.3,199.1 L358.0,195.0 L358.0,193.1 L365.5,196.3 L365.6,195.4 L358.2,189.7 L358.4,187.7 L366.3,192.5 L366.6,191.6 L359.1,184.1 L359.7,182.1 L367.8,188.7 L368.2,187.8 L361.1,178.5 L362.1,176.6 L370.0,185.2 L370.7,184.4 L364.3,173.3 L365.7,171.7 L373.0,182.3 L373.9,181.8 L368.7,169.0 L370.5,167.8 L376.7,180.3 L377.7,180.0 L374.0,166.0 L376.1,165.3 L380.8,179.3 L381.8,179.3 L380.0,164.5 L382.2,164.4 L385.0,179.4 L386.0,179.5 L386.2,164.5 L388.4,164.8 L389.0,180.2 L389.9,180.6 L392.1,165.7 L394.2,166.4 L392.7,181.7 L393.6,182.2 L397.7,167.9 L399.6,168.9 L396.1,183.7 L396.8,184.2 L402.8,170.7 L404.5,171.9 L399.0,185.9 L399.7,186.4 L407.3,174.1 L408.8,175.4 L401.6,188.3 L402.2,188.8 L411.4,177.8 L412.7,179.2 L403.9,190.8 L404.5,191.4 L414.9,181.7 L416.1,183.2 L406.0,193.4 L406.4,194.0 L418.0,185.9 L419.1,187.5 L407.7,196.1 L408.1,196.8 L420.8,190.3 L421.6,191.9 L409.3,198.9 L409.6,199.6 L423.1,194.9 L423.8,196.6 L410.7,201.8 L411.0,202.6 L425.0,199.7 L425.6,201.5 L411.8,204.9 L412.1,205.7 L426.6,204.8 L427.0,206.7 L412.7,208.2Z" />
<path class="gf" d="M423.4,209.8 L427.6,210.1 L427.8,212.1 L423.6,211.9 L423.9,214.7 L428.0,215.6 L428.0,217.7 L423.9,217.0 L423.8,219.9 L427.7,221.3 L427.4,223.4 L423.4,222.1 L422.9,225.1 L426.6,227.0 L425.9,229.0 L422.1,227.3 L421.0,230.0 L424.4,232.5 L423.3,234.4 L419.8,232.1 L418.1,234.5 L421.1,237.5 L419.6,239.0 L416.4,236.3 L414.1,238.1 L416.7,241.5 L414.9,242.6 L412.0,239.5 L409.4,240.5 L411.4,244.2 L409.4,244.8 L406.9,241.4 L404.2,241.6 L405.7,245.5 L403.6,245.6 L401.6,241.9 L399.0,241.4 L399.9,245.5 L397.8,245.2 L396.3,241.3 L394.1,240.2 L394.4,244.4 L392.5,243.8 L391.5,239.8 L389.7,238.4 L389.4,242.6 L387.7,241.8 L387.3,237.7 L386.0,236.3 L385.0,240.4 L383.6,239.5 L383.7,235.3 L382.7,233.9 L381.2,237.9 L379.9,236.9 L380.6,232.8 L379.9,231.6 L377.9,235.2 L376.8,234.3 L378.0,230.2 L377.5,229.2 L375.0,232.6 L374.0,231.6 L375.8,227.8 L375.4,226.9 L372.4,229.8 L371.6,228.9 L373.8,225.3 L373.5,224.5 L370.1,227.1 L369.4,226.1 L372.1,222.9 L371.7,222.2 L368.1,224.3 L367.4,223.3 L370.5,220.5 L370.1,219.8 L366.2,221.4 L365.6,220.4 L369.1,218.0 L368.6,217.3 L364.5,218.4 L364.0,217.3 L367.7,215.5 L367.1,214.7 L363.0,215.3 L362.4,214.1 L366.4,212.8 L365.8,211.9 L361.6,211.9 L361.1,210.6 L365.2,209.9 L364.5,208.8 L360.3,208.2 L359.9,206.8 L364.1,206.7 L363.3,205.3 L359.2,204.2 L358.9,202.7 L363.1,203.2 L362.3,201.4 L358.4,199.8 L358.2,198.1 L362.3,199.2 L361.7,197.1 L358.0,195.0 L358.0,193.1 L361.9,194.8 L361.5,192.3 L358.2,189.7 L358.4,187.7 L362.0,189.9 L362.1,187.1 L359.1,184.1 L359.7,182.1 L362.9,184.8 L363.6,181.9 L361.1,178.5 L362.1,176.6 L364.9,179.7 L366.4,177.0 L364.3,173.3 L365.7,171.7 L368.1,175.1 L370.2,172.9 L368.7,169.0 L370.5,167.8 L372.4,171.5 L375.1,170.1 L374.0,166.0 L376.1,165.3 L377.5,169.3 L380.5,168.7 L380.0,164.5 L382.2,164.4 L383.0,168.5 L386.1,168.7 L386.2,164.5 L388.4,164.8 L388.5,169.0 L391.5,169.9 L392.1,165.7 L394.2,166.4 L393.8,170.6 L396.5,171.9 L397.7,167.9 L399.6,168.9 L398.6,172.9 L401.1,174.6 L402.8,170.7 L404.5,171.9 L403.0,175.8 L405.1,177.7 L407.3,174.1 L408.8,175.4 L406.8,179.0 L408.7,181.0 L411.4,177.8 L412.7,179.2 L410.2,182.5 L411.8,184.6 L414.9,181.7 L416.1,183.2 L413.1,186.2 L414.6,188.3 L418.0,185.9 L419.1,187.5 L415.7,190.0 L417.0,192.2 L420.8,190.3 L421.6,191.9 L418.0,194.0 L419.1,196.3 L423.1,194.9 L423.8,196.6 L419.9,198.1 L420.9,200.5 L425.0,199.7 L425.6,201.5 L421.6,202.5 L422.4,205.0 L426.6,204.8 L427.0,206.7 L422.8,207.1Z" />
<ellipse class="t" cx="387.3" cy="207.1" rx="28.5" ry="19.5" transform="rotate(65.0 387.3 207.1)" />
<ellipse class="l" cx="389.5" cy="205.5" rx="28.0" ry="19.0" transform="rotate(65.0 389.5 205.5)" />
<ellipse class="t" cx="377.0" cy="190.5" rx="2.6" ry="4.2" transform="rotate(-30.0 377.0 190.5)" />
<ellipse class="t" cx="385.0" cy="188.4" rx="2.4" ry="3.4" transform="rotate(-45.0 385.0 188.4)" />
<ellipse class="t" cx="396.3" cy="194.5" rx="3.0" ry="4.4" transform="rotate(-25.0 396.3 194.5)" />
<ellipse class="t" cx="404.8" cy="215.2" rx="3.0" ry="4.4" transform="rotate(10.0 404.8 215.2)" />
<ellipse class="t" cx="397.6" cy="227.1" rx="3.0" ry="4.4" transform="rotate(40.0 397.6 227.1)" />
<path class="t" d="M370.2,204.0 C370.8,203.2 372.6,200.6 374.0,199.5 C375.4,198.4 375.8,197.6 378.3,197.2 C380.8,196.8 386.5,195.8 389.2,197.2 C391.9,198.6 393.5,202.2 394.6,205.4 C395.7,208.6 396.4,213.1 396.0,216.3 C395.6,219.5 393.9,222.6 391.9,224.4 C389.8,226.2 386.2,226.8 383.7,227.1 C381.2,227.4 378.1,226.2 377.0,226.0" />
<ellipse class="t" cx="378.5" cy="213.5" rx="9.8" ry="12.2" transform="rotate(-16.0 378.5 213.5)" />
<ellipse class="t" cx="379.0" cy="213.9" rx="6.0" ry="8.5" transform="rotate(-16.0 379.0 213.9)" />
<path class="l" d="M381.0,206.5 C381.3,207.4 382.8,209.8 383.0,212.0 C383.2,214.2 382.2,218.7 382.0,220.0" />
<text x="430.8" y="228.3" font-size="9" >2</text>
<path class="d" d="M437.5,233.3 L482.0,258.2" />
<ellipse class="k" cx="451.1" cy="170.0" rx="44.0" ry="25.8" transform="rotate(56.0 451.1 170.0)" />
<ellipse class="t" cx="451.1" cy="170.0" rx="41.3" ry="23.3" transform="rotate(56.0 451.1 170.0)" />
<path class="t" d="M486.0,201.5 L488.0,195.0" />
<ellipse class="k" cx="488.9" cy="147.5" rx="15.5" ry="10.8" transform="rotate(60.0 488.9 147.5)" />
<ellipse class="t" cx="489.0" cy="148.0" rx="5.5" ry="4.0" transform="rotate(60.0 489.0 148.0)" />
<text x="500.4" y="165.8" font-size="9" >4</text>
<path class="k" d="M500.9,127.8 C501.6,126.1 502.9,123.3 504.9,121.9 C506.9,120.5 510.5,119.5 512.8,119.4 C515.1,119.3 516.9,120.2 518.7,121.4 C520.5,122.6 522.3,124.8 523.6,126.8 C524.9,128.8 526.1,131.2 526.6,133.7 C527.1,136.2 527.1,139.5 526.6,141.6 C526.1,143.7 525.6,145.1 523.6,146.1 C521.6,147.1 517.4,147.8 514.8,147.6 C512.2,147.3 509.8,146.1 507.8,144.6 C505.8,143.1 504.1,140.8 502.9,138.7 C501.7,136.6 500.7,133.6 500.4,131.8 C500.1,130.0 500.1,129.4 500.9,127.8Z" />
<path class="l" d="M506.5,124.5 L516.2,125.0 L521.7,137.2 L519.5,146.5" />
<path class="l" d="M516.2,125.0 L517.5,122.0" />
<path class="l" d="M521.7,137.2 L526.5,135.5" />
<ellipse class="t" cx="510.3" cy="136.7" rx="6.2" ry="7.9" transform="rotate(-25.0 510.3 136.7)" />
<ellipse class="l" cx="510.5" cy="136.7" rx="4.5" ry="6.0" transform="rotate(-25.0 510.5 136.7)" />
<ellipse class="t" cx="511.0" cy="136.5" rx="2.6" ry="3.8" transform="rotate(-25.0 511.0 136.5)" />
<text x="525.4" y="124.5" font-size="8.5" >3</text>
<ellipse class="k" cx="358.5" cy="150.0" rx="5.6" ry="9.0" transform="rotate(-35.0 358.5 150.0)" />
<ellipse class="l" cx="358.5" cy="150.0" rx="4.0" ry="7.3" transform="rotate(-35.0 358.5 150.0)" />
<text x="356.5" y="137.0" font-size="8.5" >6</text>
<path class="d" d="M351.0,156.0 L343.2,158.0 L343.2,177.0" />
<path class="d" d="M324.7,169.1 L361.7,185.2" />
<path class="t" d="M482.0,268.0 C481.9,267.0 481.1,263.8 481.5,262.0 C481.9,260.2 483.1,258.0 484.5,257.0 C485.9,256.0 487.9,256.0 490.0,256.0 C492.1,256.0 495.2,256.3 497.0,257.0 C498.8,257.7 500.3,259.5 501.0,260.0" />
<path class="t" d="M482.0,268.0 C482.5,268.8 483.7,271.8 485.0,273.0 C486.3,274.2 489.2,274.7 490.0,275.0" />
<path class="l" d="M487.5,261.0 C487.4,262.2 486.4,265.7 487.0,268.0 C487.6,270.3 490.3,273.8 491.0,275.0" />
<path class="l" d="M493.5,259.0 C493.2,260.5 491.8,265.3 491.5,268.0 C491.2,270.7 491.9,273.8 492.0,275.0" />
<path class="t" d="M493.5,258.6 C494.9,259.0 499.5,259.7 502.2,261.1 C504.9,262.6 508.0,265.0 509.6,267.3 C511.2,269.6 511.9,272.2 512.0,274.7 C512.1,277.2 511.6,279.8 510.2,282.1 C508.8,284.4 505.1,286.9 503.4,288.3 C501.6,289.7 500.3,290.3 499.7,290.7" />
<ellipse class="t" cx="493.2" cy="285.2" rx="6.2" ry="8.5" transform="rotate(-30.0 493.2 285.2)" />
<ellipse class="t" cx="493.5" cy="285.0" rx="4.3" ry="6.6" transform="rotate(-30.0 493.5 285.0)" />
<path class="l" d="M495.0,262.0 C495.3,263.3 497.2,267.5 497.0,270.0 C496.8,272.5 494.5,275.8 494.0,277.0" />
<text x="506.9" y="260.3" font-size="10.4" textLength="33.6" lengthAdjust="spacingAndGlyphs">5438-02</text>
<path class="k" d="M361.4,320.7 L364.9,319.5 L369.8,321.2 L371.3,324.7 L370.3,330.6 L366.9,332.6 L362.9,330.6 L361.4,325.7Z" />
<path class="l" d="M364.9,319.5 L367.8,324.7 L366.9,332.6" />
<path class="l" d="M367.8,324.7 L371.3,324.7" />
<path class="t" d="M369.8,321.2 L387.6,311.4 L390.1,311.9 L391.0,314.8 L389.1,317.3 L371.3,328.6" />
<path class="l" d="M378.0,319.5 L387.6,314.3" />
<path class="l" d="M376.0,318.0 L377.5,324.0" />
<text x="380.0" y="332.6" font-size="9" >8</text>
<path class="d" d="M320.5,254.5 L405.9,302.8 L392.0,311.8" />
<path d="M135.8,313.0 L135.9,313.6 L135.9,314.4 L136.0,315.3 L136.1,316.4 L136.1,317.5 L136.2,318.8 L136.4,320.1 L136.5,321.4 L136.6,322.8 L136.8,324.3 L136.9,325.7 L137.1,327.1 L137.5,328.6 L137.9,330.1 L138.4,331.7 L138.9,333.3 L139.5,334.9 L140.0,336.5 L140.5,338.1 L141.1,339.7 L141.6,341.2 L142.0,342.6 L142.5,343.8 L142.8,344.8 L143.1,345.6 L143.2,346.2 L143.3,346.8 L143.4,347.3 L143.5,347.8 L143.7,348.5 L143.9,349.3 L144.3,350.3 L144.9,351.3 L145.6,352.2 L146.3,352.9 L147.2,353.7 L148.2,354.4 L149.3,355.0 L150.4,355.5 L151.5,356.0 L152.6,356.4 L153.6,356.8 L154.8,357.1 L155.9,357.5 L157.0,357.9 L158.1,358.3 L159.3,358.8 L160.4,359.3 L161.7,359.9 L163.1,360.5 L164.5,361.2 L166.1,361.9 L167.6,362.7 L169.2,363.5 L170.8,364.2 L172.5,365.0 L174.1,365.8 L175.7,366.6 L177.3,367.4 L178.9,368.1 L180.5,368.9 L182.1,369.7 L183.7,370.5 L185.4,371.3 L187.0,372.1 L188.7,372.8 L190.3,373.6 L191.8,374.4 L193.4,375.1 L194.8,375.8 L196.2,376.4 L197.5,377.0 L198.6,377.5 L199.6,377.9 L200.5,378.4 L201.3,378.7 L202.1,379.1 L202.9,379.5 L203.8,379.8 L204.6,380.1 L205.5,380.5 L206.5,380.8 L207.6,381.1 L208.8,381.4 L210.1,381.8 L211.5,382.1 L213.0,382.5 L214.5,382.8 L216.1,383.2 L217.7,383.5 L219.3,383.8 L221.0,384.1 L222.7,384.4 L224.3,384.7 L225.9,384.9 L227.5,385.1 L229.0,385.2 L230.5,385.4 L232.1,385.5 L233.6,385.6 L235.1,385.6 L236.6,385.7 L238.1,385.7 L239.6,385.7 L241.1,385.7 L242.5,385.6 L244.0,385.5 L245.4,385.4 L246.9,385.2 L248.3,385.0 L249.7,384.8 L251.1,384.5 L252.4,384.3 L253.7,383.9 L255.0,383.6 L256.3,383.3 L257.5,383.0 L258.7,382.6 L260.0,382.3 L261.2,381.9 L262.5,381.6 L263.7,381.2 L264.9,380.9 L266.1,380.5 L267.4,380.2 L268.6,379.8 L269.9,379.4 L271.1,378.9 L272.5,378.5 L273.8,378.0 L275.2,377.4 L276.7,376.9 L278.2,376.3 L279.7,375.7 L281.3,375.0 L283.0,374.3 L284.7,373.6 L286.4,372.9 L288.1,372.1 L289.9,371.3 L291.7,370.5 L293.4,369.6 L295.2,368.7 L297.0,367.7 L298.7,366.8 L300.5,365.8 L302.2,364.7 L304.1,363.7 L305.9,362.5 L307.7,361.4 L309.5,360.2 L311.3,359.0 L313.1,357.8 L314.8,356.5 L316.4,355.2 L318.0,353.9 L319.5,352.5 L320.9,351.0 L322.3,349.6 L323.6,348.1 L324.8,346.7 L326.0,345.2 L327.1,343.7 L328.2,342.3 L329.2,340.8 L330.3,339.4 L331.3,338.0 L332.4,336.6 L333.5,335.2 L334.5,333.8 L335.5,332.3 L336.5,330.9 L337.5,329.5 L338.5,328.1 L339.4,326.6 L340.4,325.2 L341.3,323.8 L342.3,322.4 L343.3,321.0 L344.3,319.6 L345.4,318.2 L346.5,316.7 L347.7,315.1 L348.9,313.6 L350.1,312.0 L351.4,310.4 L352.6,308.9 L353.8,307.3 L354.9,305.8 L356.1,304.3 L357.1,302.9 L358.0,301.5 L358.9,300.2 L359.7,299.0 L360.4,297.9 L361.1,296.8 L361.8,295.7 L362.4,294.7 L362.9,293.6 L363.4,292.6 L363.9,291.6 L364.4,290.6 L364.9,289.6 L365.4,288.5 L365.8,287.4 L366.3,286.4 L366.7,285.4 L367.1,284.4 L367.4,283.3 L367.7,282.3 L368.1,281.3 L368.4,280.2 L368.7,279.2 L369.0,278.0 L369.3,276.9 L369.6,275.6 L369.9,274.2 L370.1,272.5 L370.3,270.8 L370.5,269.0 L370.7,267.2 L370.8,265.4 L371.0,263.6 L371.2,261.9 L371.3,260.3 L371.5,259.0 L371.6,257.8 L371.7,256.9 L367.7,256.1 L367.5,257.0 L367.1,258.1 L366.8,259.5 L366.3,261.0 L365.8,262.6 L365.4,264.3 L364.8,266.0 L364.3,267.8 L363.8,269.5 L363.3,271.1 L362.8,272.5 L362.4,273.8 L362.1,275.0 L361.8,276.1 L361.5,277.2 L361.2,278.2 L361.0,279.2 L360.7,280.1 L360.4,281.0 L360.1,281.9 L359.8,282.7 L359.4,283.6 L359.0,284.5 L358.6,285.5 L358.2,286.5 L357.7,287.4 L357.3,288.3 L356.8,289.2 L356.4,290.1 L355.9,291.1 L355.4,292.0 L354.8,292.9 L354.2,293.9 L353.5,295.0 L352.8,296.1 L352.0,297.3 L351.1,298.5 L350.1,299.8 L349.0,301.2 L347.8,302.6 L346.6,304.1 L345.4,305.6 L344.1,307.1 L342.8,308.7 L341.5,310.2 L340.3,311.8 L339.1,313.3 L337.9,314.8 L336.8,316.2 L335.7,317.7 L334.7,319.1 L333.6,320.5 L332.6,321.9 L331.7,323.3 L330.7,324.7 L329.7,326.0 L328.7,327.4 L327.7,328.7 L326.7,330.0 L325.6,331.4 L324.5,332.8 L323.4,334.2 L322.3,335.6 L321.2,336.9 L320.1,338.3 L319.1,339.6 L318.0,340.9 L316.8,342.2 L315.7,343.5 L314.5,344.7 L313.3,345.8 L312.0,346.9 L310.6,348.1 L309.2,349.2 L307.7,350.3 L306.1,351.4 L304.4,352.5 L302.8,353.6 L301.0,354.7 L299.3,355.8 L297.6,356.8 L295.9,357.8 L294.2,358.7 L292.5,359.7 L290.9,360.5 L289.3,361.4 L287.7,362.2 L286.0,363.0 L284.4,363.7 L282.7,364.5 L281.1,365.2 L279.4,365.8 L277.9,366.5 L276.3,367.1 L274.8,367.7 L273.3,368.3 L271.9,368.9 L270.6,369.4 L269.4,369.8 L268.1,370.2 L267.0,370.6 L265.8,371.0 L264.7,371.4 L263.5,371.7 L262.4,372.1 L261.2,372.4 L260.0,372.7 L258.8,373.1 L257.5,373.4 L256.3,373.8 L255.1,374.1 L253.9,374.4 L252.7,374.7 L251.6,375.0 L250.4,375.3 L249.2,375.5 L248.1,375.7 L246.9,375.9 L245.8,376.1 L244.6,376.2 L243.3,376.3 L242.1,376.4 L240.8,376.5 L239.5,376.5 L238.1,376.5 L236.8,376.5 L235.4,376.4 L234.1,376.4 L232.7,376.3 L231.3,376.2 L229.9,376.1 L228.5,375.9 L227.1,375.8 L225.6,375.6 L224.1,375.3 L222.6,375.1 L221.0,374.8 L219.5,374.5 L218.0,374.2 L216.5,373.8 L215.0,373.5 L213.7,373.2 L212.4,372.9 L211.2,372.6 L210.2,372.3 L209.3,372.0 L208.5,371.8 L207.8,371.5 L207.2,371.3 L206.5,371.0 L205.9,370.7 L205.2,370.4 L204.4,370.0 L203.5,369.6 L202.4,369.1 L201.3,368.6 L200.0,368.0 L198.7,367.4 L197.3,366.8 L195.8,366.1 L194.2,365.3 L192.6,364.5 L191.0,363.8 L189.4,363.0 L187.7,362.2 L186.1,361.4 L184.5,360.6 L182.9,359.9 L181.3,359.1 L179.7,358.3 L178.1,357.6 L176.5,356.8 L174.8,356.0 L173.2,355.2 L171.6,354.4 L170.0,353.6 L168.5,352.9 L167.0,352.2 L165.6,351.5 L164.2,350.9 L162.8,350.3 L161.4,349.8 L160.1,349.3 L158.9,348.8 L157.8,348.4 L156.7,348.1 L155.7,347.7 L154.9,347.4 L154.1,347.1 L153.6,346.8 L153.1,346.6 L152.8,346.3 L152.5,346.1 L152.5,346.0 L152.5,346.1 L152.6,346.3 L152.6,346.4 L152.6,346.3 L152.6,346.0 L152.5,345.5 L152.3,344.8 L152.1,343.9 L151.8,342.8 L151.4,341.8 L150.9,340.6 L150.4,339.4 L149.9,338.1 L149.3,336.7 L148.7,335.2 L148.1,333.6 L147.5,332.0 L146.9,330.5 L146.3,329.0 L145.8,327.5 L145.3,326.1 L144.9,324.9 L144.3,323.7 L143.8,322.5 L143.3,321.3 L142.8,320.0 L142.4,318.8 L142.0,317.6 L141.6,316.4 L141.3,315.4 L141.0,314.4 L140.7,313.5 L140.4,312.7 L140.2,312.0Z" fill="#fce300" stroke="#fce300" stroke-width="0.4" stroke-linejoin="round" filter="url(#yb)"/>
</svg></body></html>
